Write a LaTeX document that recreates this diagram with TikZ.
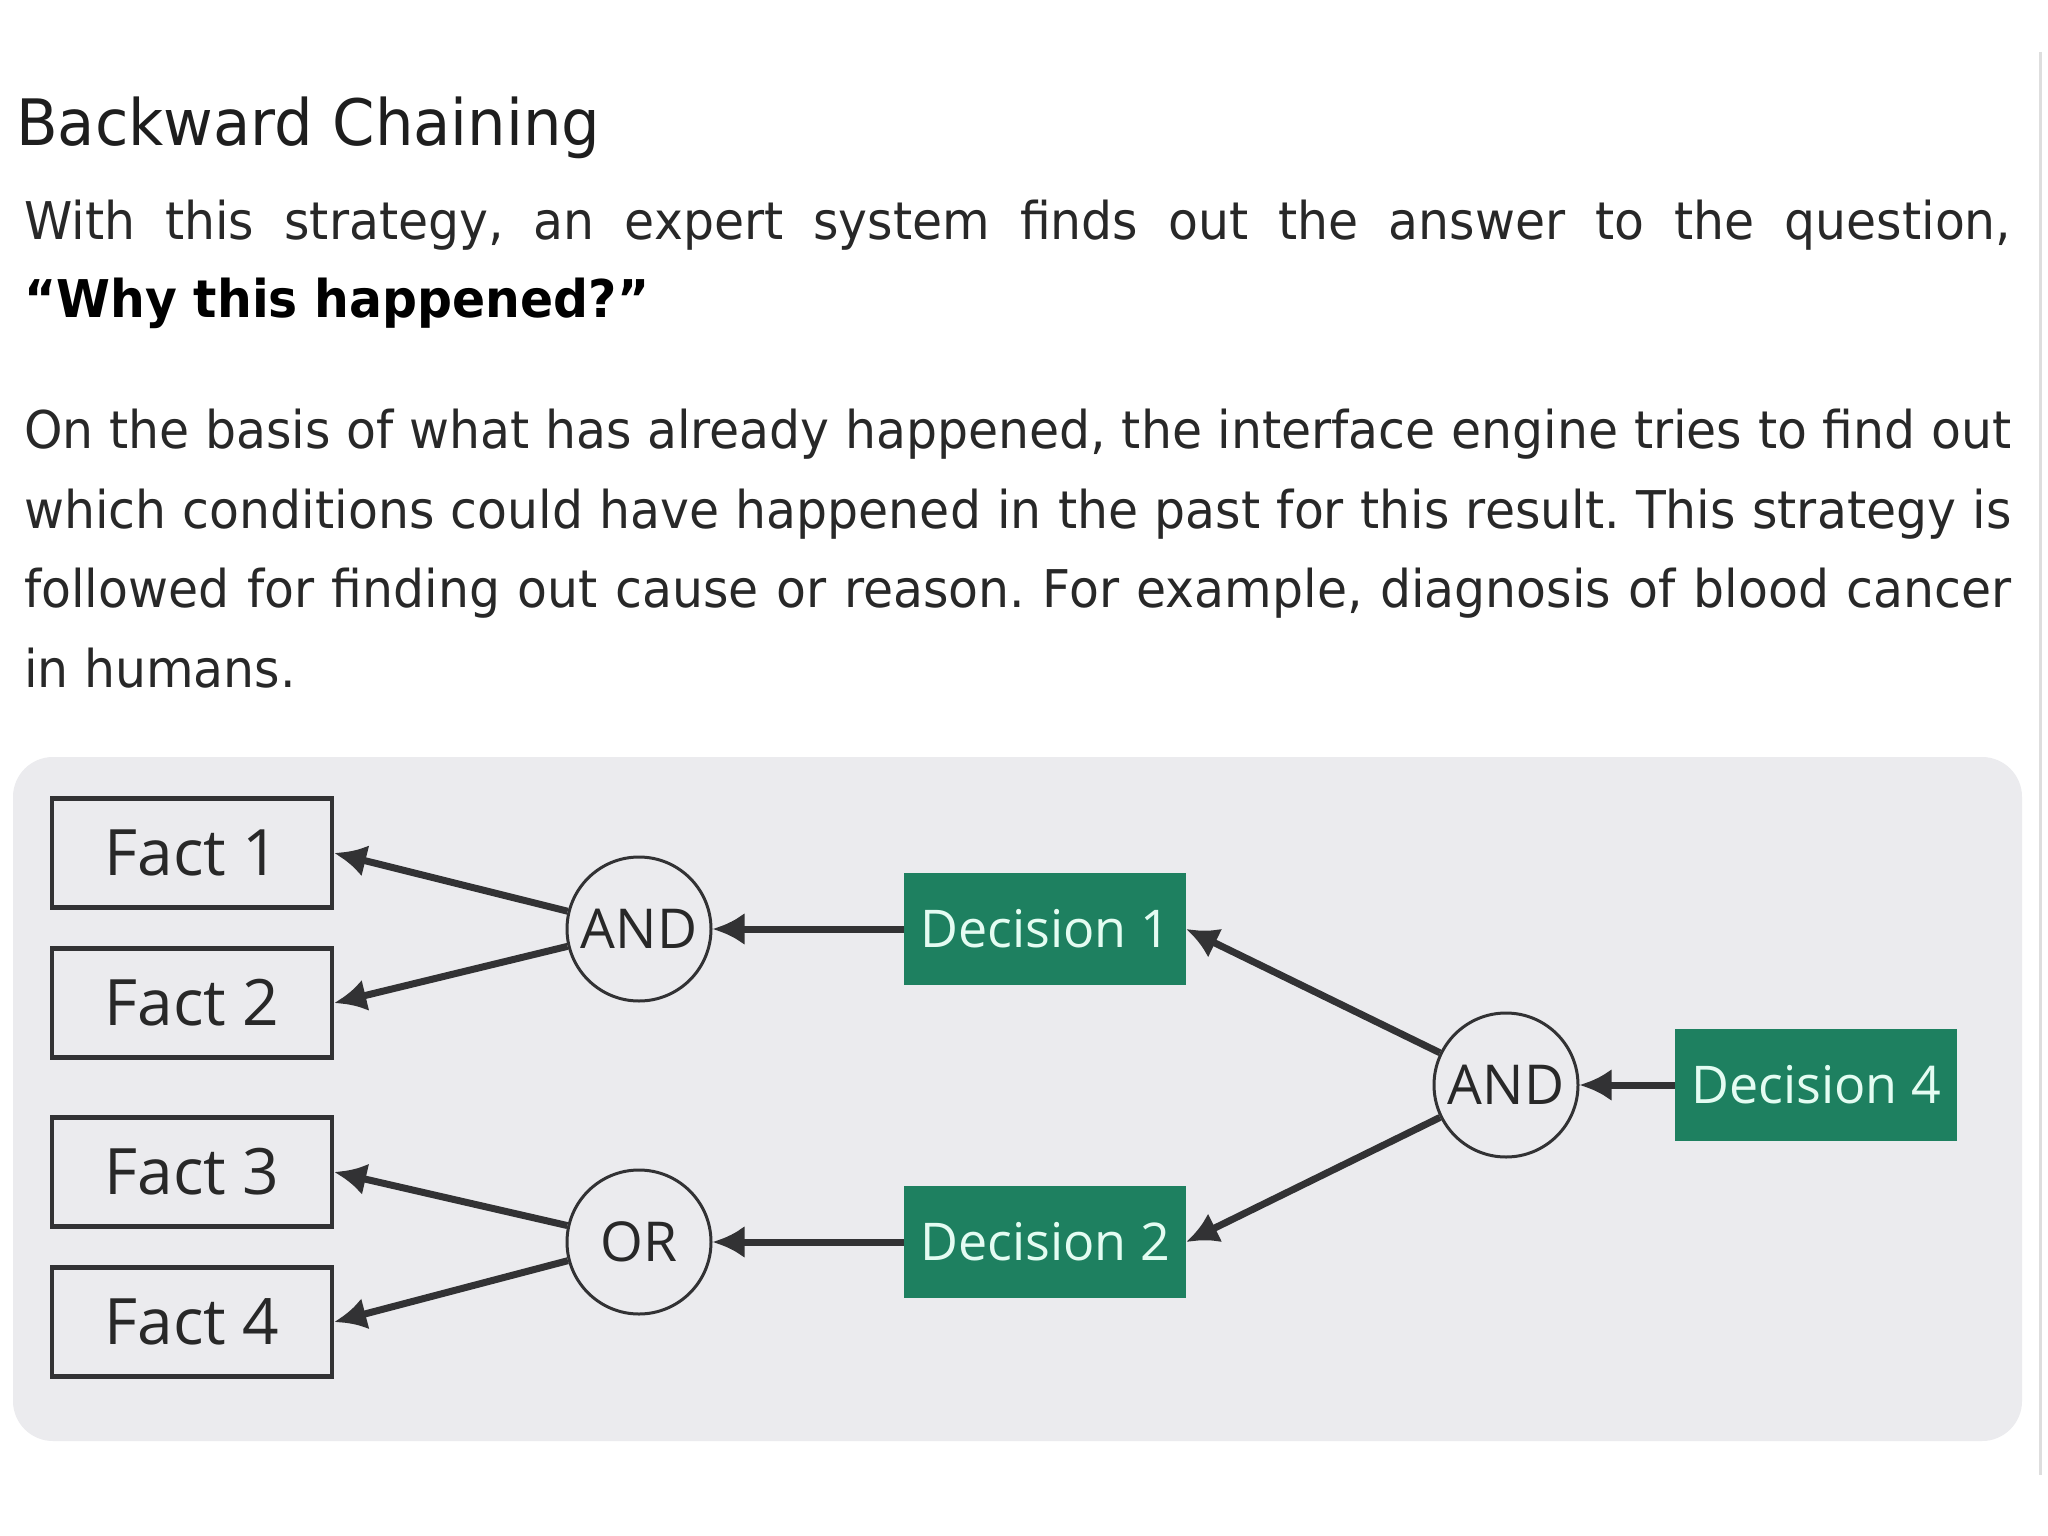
\documentclass[tikz,border=0pt]{standalone}
\usepackage{fontspec}
\usepackage{graphicx}
\usetikzlibrary{arrows.meta}
\newfontfamily\verd{DejaVu Sans}
\newfontfamily\opens{Open Sans}
\definecolor{bgrey}{RGB}{235,235,238}
\definecolor{dgreen}{RGB}{30,128,96}
\definecolor{mint}{RGB}{228,252,242}
\definecolor{ink}{RGB}{50,50,52}
\definecolor{txt}{RGB}{40,40,40}
\newcommand{\jline}[2]{\scalebox{0.94}[1]{\makebox[2114pt][s]{#2}}}
\begin{document}
\frenchspacing
\begin{tikzpicture}[x=1pt,y=-1pt,
  textline/.style={anchor=base west, inner sep=0pt, text=txt, font=\verd\fontsize{52}{52}\selectfont},
  factbox/.style={draw=ink, line width=4.5pt, minimum width=280pt, minimum height=109pt, inner sep=0pt, text=txt, font=\opens\fontsize{64}{64}\selectfont},
  decbox/.style={fill=dgreen, minimum width=282pt, minimum height=112pt, inner sep=0pt, text=mint, font=\opens\fontsize{52}{52}\selectfont},
  gate/.style={circle, draw=ink, line width=3pt, minimum size=144pt, inner sep=0pt, text=txt, font=\opens\fontsize{55}{55}\selectfont},
  arr/.style={draw=ink, line width=7pt, -{Latex[length=32pt,width=32pt]}}]
\useasboundingbox[fill=white] (0,0) rectangle (2048,1536);
% right border line
\draw[line width=3pt, color={rgb,255:red,222;green,222;blue,222}] (2040,52) -- (2040,1475);
% title and text
\node[anchor=base west, inner sep=0pt, text={rgb,255:red,30;green,30;blue,30}] (title) at (16,146)
  {\scalebox{0.95}[1]{\verd\fontsize{64}{64}\selectfont Backward Chaining}};
\node[textline] (p1a) at (24,239) {\jline{}{With this strategy, an expert system finds out the answer to the question,}};
\node[textline, text=black] (p1b) at (24,317) {\scalebox{0.94}[1]{\bfseries “Why this happened?”}};
\node[textline] (p2a) at (24,448) {\jline{}{On the basis of what has already happened, the interface engine tries to find out}};
\node[textline] (p2b) at (24,528) {\jline{}{which conditions could have happened in the past for this result. This strategy is}};
\node[textline] (p2c) at (24,607) {\jline{}{followed for finding out cause or reason. For example, diagnosis of blood cancer}};
\node[textline] (p2d) at (24,687) {\scalebox{0.94}[1]{in humans.}};
% diagram background
\fill[bgrey, rounded corners=40pt] (13,757) rectangle (2022,1441);
% nodes
\node[factbox] (f1) at (192,853) {Fact 1};
\node[factbox] (f2) at (192,1003) {Fact 2};
\node[factbox] (f3) at (192,1172) {Fact 3};
\node[factbox] (f4) at (192,1322) {Fact 4};
\node[gate] (and1) at (639,929) {AND};
\node[gate] (or1) at (639,1242) {OR};
\node[decbox] (d1) at (1045,929) {Decision 1};
\node[decbox] (d2) at (1045,1242) {Decision 2};
\node[gate] (and2) at (1506,1085) {AND};
\node[decbox] (d4) at (1816,1085) {Decision 4};
% connectors
\draw[arr] (and1) -- (f1.east);
\draw[arr] (and1) -- (f2.east);
\draw[arr] (or1) -- (f3.east);
\draw[arr] (or1) -- (f4.east);
\draw[arr] (d1.west) -- (and1.east);
\draw[arr] (d2.west) -- (or1.east);
\draw[arr] (and2) -- (d1.east);
\draw[arr] (and2) -- (d2.east);
\draw[arr] (d4.west) -- (and2.east);
\end{tikzpicture}
\end{document}
